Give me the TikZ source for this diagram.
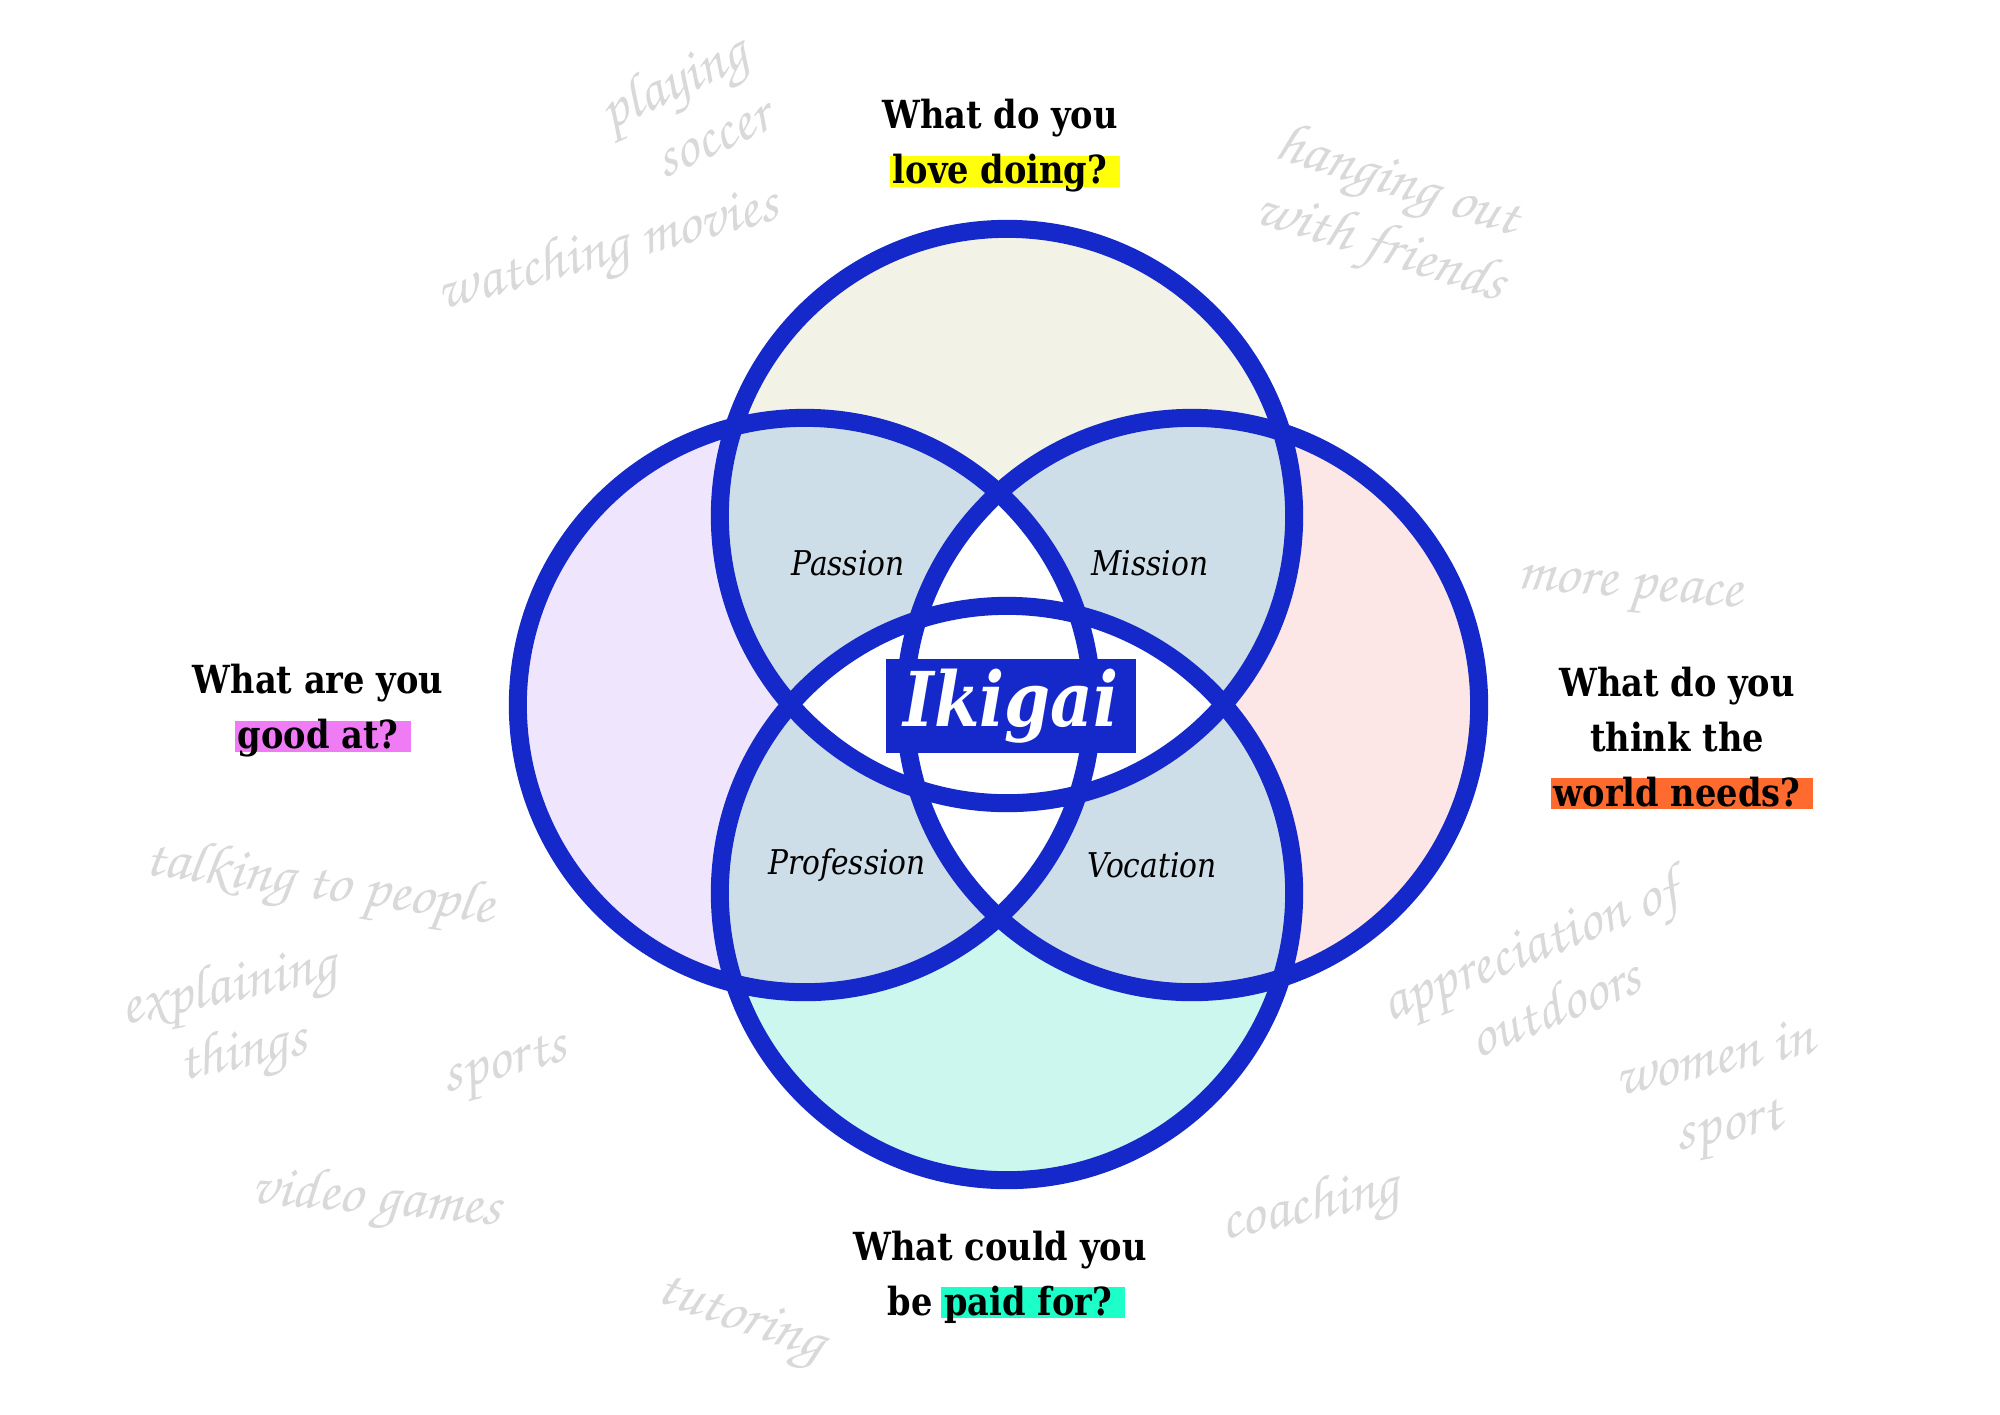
\documentclass[tikz,border=0pt]{standalone}
\usepackage{fontspec}
\setmainfont{DejaVu Serif}[FakeStretch=0.87]
\newfontfamily\handfont{texgyrechorus-mediumitalic.otf}
\usepackage{tikz}

\definecolor{ringblue}{HTML}{1529CB}
\definecolor{lovefill}{HTML}{F2F2E6}
\definecolor{goodfill}{HTML}{EFE6FD}
\definecolor{needfill}{HTML}{FDE6E6}
\definecolor{paidfill}{HTML}{CCF7EE}
\definecolor{mixfill}{HTML}{CEDEE8}
\definecolor{handgray}{HTML}{D9D9D9}
\definecolor{loveyellow}{HTML}{FFFF0A}
\definecolor{goodpink}{HTML}{F07CF5}
\definecolor{needorange}{HTML}{FF6A2E}
\definecolor{paidteal}{HTML}{1CFFC9}

\newsavebox\hlbox
\newcommand\hilite[2]{\sbox\hlbox{#2}\makebox[0pt][l]{\hspace{-0.08em}\color{#1}\rule[-0.07em]{\dimexpr\wd\hlbox+0.4em\relax}{0.8em}}\usebox\hlbox}

\begin{document}
\begin{tikzpicture}[x=0.01cm,y=-0.01cm,
    ring/.style={draw=ringblue,line width=1.8mm},
    ask/.style={align=center,inner sep=0pt,font=\fontsize{11}{15.6}\selectfont\bfseries},
    role/.style={inner sep=0pt,font=\fontsize{9.7}{11}\selectfont\itshape},
    hand/.style={text=handgray,inner sep=0pt,align=center,font=\handfont\fontsize{17}{19}\selectfont}]
  \useasboundingbox (0,0) rectangle (2000,1414);

  \coordinate (clove) at (1007,516);
  \coordinate (cgood) at (805,705);
  \coordinate (cneed) at (1192,705);
  \coordinate (cpaid) at (1007,893);

  \fill [lovefill] (clove) circle [radius=2.87cm];
  \fill [goodfill] (cgood) circle [radius=2.87cm];
  \fill [needfill] (cneed) circle [radius=2.87cm];
  \fill [paidfill] (cpaid) circle [radius=2.87cm];

  \begin{scope}
    \clip (clove) circle [radius=2.87cm];
    \fill [mixfill] (cgood) circle [radius=2.87cm];
    \fill [mixfill] (cneed) circle [radius=2.87cm];
  \end{scope}
  \begin{scope}
    \clip (cpaid) circle [radius=2.87cm];
    \fill [mixfill] (cgood) circle [radius=2.87cm];
    \fill [mixfill] (cneed) circle [radius=2.87cm];
  \end{scope}
  \begin{scope}
    \clip (clove) circle [radius=2.87cm];
    \fill [white] (cpaid) circle [radius=2.87cm];
  \end{scope}
  \begin{scope}
    \clip (cgood) circle [radius=2.87cm];
    \fill [white] (cneed) circle [radius=2.87cm];
  \end{scope}

  \draw [ring] (clove) circle [radius=2.87cm];
  \draw [ring] (cgood) circle [radius=2.87cm];
  \draw [ring] (cneed) circle [radius=2.87cm];
  \draw [ring] (cpaid) circle [radius=2.87cm];

  \node [fill=ringblue,text=white,minimum width=2.5cm,minimum height=0.93cm,inner sep=0pt,
    font=\fontsize{21.5}{24}\selectfont\bfseries\itshape] (ikigai) at (1011,706) {Ikigai};

  \node [role] (passion) at (848,563) {Passion};
  \node [role] (mission) at (1150,563) {Mission};
  \node [role] (profession) at (847,865) {Profession};
  \node [role] (vocation) at (1152,865) {Vocation};

  \node [ask] (love) at (1000,146) {What do you\\\hilite{loveyellow}{love doing?}};
  \node [ask] (good) at (318,711) {What are you\\\hilite{goodpink}{good at?}};
  \node [ask] (need) at (1677,738) {What do you\\think the\\\hilite{needorange}{world needs?}};
  \node [ask] (paid) at (1000,1277) {What could you\\be \hilite{paidteal}{paid for?}};

  \node [hand,rotate=25] (soccer) at (686,110) {playing\\\hspace*{0.4em}soccer};
  \node [hand,rotate=15] (movies) at (608,252) {watching movies};
  \node [hand,rotate=-18,align=left] (friends) at (1390,217) {hanging out\\with friends};
  \node [hand,rotate=-5] (peace) at (1629,593) {more peace};
  \node [hand,rotate=-8] (talking) at (319,886) {talking to people};
  \node [hand,rotate=12] (explain) at (236,1022) {explaining\\things};
  \node [hand,rotate=15] (sports) at (506,1069) {sports};
  \node [hand,rotate=-5] (games) at (376,1201) {video games};
  \node [hand,rotate=-20] (tutor) at (740,1320) {tutoring};
  \node [hand,rotate=12] (coach) at (1310,1208) {coaching};
  \node [hand,rotate=22] (outdoors) at (1541,975) {appreciation of\\outdoors};
  \node [hand,rotate=12] (women) at (1722,1096) {women in\\sport};
\end{tikzpicture}
\end{document}
